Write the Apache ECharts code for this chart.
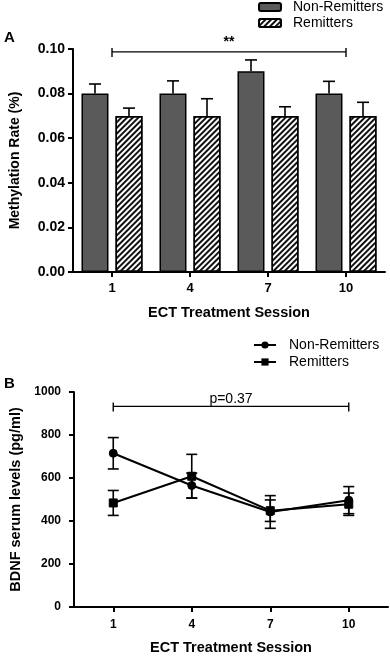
<!DOCTYPE html>
<html>
<head>
<meta charset="utf-8">
<script src="https://cdn.jsdelivr.net/npm/echarts@6/dist/echarts.min.js"></script>
<style>
html,body{margin:0;padding:0;background:#fff;}
#chart{width:390px;height:656px;}
</style>
</head>
<body>
<div id="chart"></div>
<script>
// ---------- data ----------
var sessions = ['1', '4', '7', '10'];
var seriesNames = ['Non-Remitters', 'Remitters'];

// Panel A: methylation rate (%)
var methNonRemit = [0.080, 0.080, 0.090, 0.080];
var methNonRemitErr = [0.0043, 0.0057, 0.0051, 0.0055];
var methRemit = [0.070, 0.070, 0.070, 0.070];
var methRemitErr = [0.0035, 0.0077, 0.0041, 0.0061];
var methTicks = [0, 0.02, 0.04, 0.06, 0.08, 0.10];
var sigA = [[0, 3, 0.0987, '**']];

// Panel B: BDNF serum levels (pg/ml)
var bdnfNonRemit = [715, 565, 442, 497];
var bdnfNonRemitErr = [73, 58, 76, 63];
var bdnfRemit = [484, 608, 448, 478];
var bdnfRemitErr = [58, 102, 50, 52];
var bdnfTicks = [0, 200, 400, 600, 800, 1000];
var sigB = [[0, 3, 933, 'p=0.37']];

// ---------- chart ----------
var FONT = 'Liberation Sans, Arial, Helvetica, sans-serif';
var chart = echarts.init(document.getElementById('chart'), null, {renderer: 'canvas'});

function errBarSeries(means, errs, xi, yi, offset, twoSided, capHalf) {
  return {
    type: 'custom', xAxisIndex: xi, yAxisIndex: yi, z: 1, silent: true,
    encode: {x: 0, y: [1, 2, 3]},
    data: means.map(function (m, i) { return [i, m, m + errs[i], twoSided ? m - errs[i] : m]; }),
    renderItem: function (params, api) {
      var i = api.value(0);
      var top = api.coord([i, api.value(2)]);
      var bot = api.coord([i, api.value(3)]);
      var x = top[0] + offset;
      var st = {stroke: '#000', lineWidth: 1.6};
      var ch = [
        {type: 'line', shape: {x1: x, y1: bot[1], x2: x, y2: top[1]}, style: st},
        {type: 'line', shape: {x1: x - capHalf, y1: top[1], x2: x + capHalf, y2: top[1]}, style: st}
      ];
      if (twoSided) ch.push({type: 'line', shape: {x1: x - capHalf, y1: bot[1], x2: x + capHalf, y2: bot[1]}, style: st});
      return {type: 'group', children: ch};
    }
  };
}

function bracketSeries(data, xi, yi, fontSize, bold, textGap) {
  return {
    type: 'custom', xAxisIndex: xi, yAxisIndex: yi, silent: true, z: 5,
    encode: {x: [0, 1], y: 2},
    data: data,
    renderItem: function (params, api) {
      var p1 = api.coord([api.value(0), api.value(2)]);
      var p2 = api.coord([api.value(1), api.value(2)]);
      var st = {stroke: '#000', lineWidth: 1.4};
      return {type: 'group', children: [
        {type: 'line', shape: {x1: p1[0], y1: p1[1], x2: p2[0], y2: p2[1]}, style: st},
        {type: 'line', shape: {x1: p1[0], y1: p1[1] - 4, x2: p1[0], y2: p1[1] + 5}, style: st},
        {type: 'line', shape: {x1: p2[0], y1: p2[1] - 4, x2: p2[0], y2: p2[1] + 5}, style: st},
        {type: 'text', x: (p1[0] + p2[0]) / 2, y: p1[1] - textGap,
          style: {text: data[params.dataIndex][3], textAlign: 'center', textVerticalAlign: 'bottom',
            font: (bold ? 'bold ' : '') + fontSize + 'px ' + FONT, fill: '#000'}}
      ]};
    }
  };
}

var axisLine = {show: true, lineStyle: {color: '#000', width: 2}};
var axisTick = {show: true, length: 5, lineStyle: {color: '#000', width: 2}};

var option = {
  animation: false,
  backgroundColor: '#fff',
  textStyle: {fontFamily: FONT},
  title: [
    {text: 'A', left: 4, top: 30, padding: 0, textStyle: {fontSize: 15, fontWeight: 'bold', color: '#000', fontFamily: FONT}},
    {text: 'B', left: 4, top: 376, padding: 0, textStyle: {fontSize: 15, fontWeight: 'bold', color: '#000', fontFamily: FONT}}
  ],
  legend: [
    {data: [seriesNames[0], seriesNames[1]], orient: 'vertical', left: 258, top: -1, itemGap: 0, padding: 0,
      itemWidth: 22, itemHeight: 8,
      textStyle: {fontSize: 14, color: '#000', fontFamily: FONT, lineHeight: 16, padding: [0, 0, 0, 7]}},
    {data: ['B:' + seriesNames[0], 'B:' + seriesNames[1]], orient: 'vertical', left: 253, top: 337, itemGap: 1, padding: 0,
      itemWidth: 22, itemHeight: 9,
      formatter: function (n) { return n.replace('B:', ''); },
      textStyle: {fontSize: 14, color: '#000', fontFamily: FONT, lineHeight: 16, padding: [0, 0, 0, 8]}}
  ],
  grid: [
    {left: 61, top: 49, width: 324, height: 223},
    {left: 66, top: 392, width: 322, height: 219}
  ],
  xAxis: [
    {type: 'category', gridIndex: 0, data: sessions, axisLine: axisLine,
      axisTick: Object.assign({alignWithLabel: true}, axisTick),
      axisLabel: {color: '#000', fontWeight: 'bold', fontSize: 13, margin: 10, fontFamily: FONT},
      name: 'ECT Treatment Session', nameLocation: 'middle', nameGap: 33,
      nameTextStyle: {fontWeight: 'bold', fontSize: 14.5, color: '#000', fontFamily: FONT}},
    {type: 'category', gridIndex: 1, data: sessions, axisLine: axisLine,
      axisTick: Object.assign({alignWithLabel: true}, axisTick),
      axisLabel: {color: '#000', fontWeight: 'bold', fontSize: 12, margin: 12, fontFamily: FONT},
      name: 'ECT Treatment Session', nameLocation: 'middle', nameGap: 33,
      nameTextStyle: {fontWeight: 'bold', fontSize: 14.5, color: '#000', fontFamily: FONT}}
  ],
  yAxis: [
    {type: 'value', gridIndex: 0, min: methTicks[0], max: methTicks[methTicks.length - 1], interval: 0.02,
      axisLine: axisLine, axisTick: axisTick, splitLine: {show: false},
      axisLabel: {color: '#000', fontWeight: 'bold', fontSize: 14, margin: 8, fontFamily: FONT,
        formatter: function (v) { return v.toFixed(2); }},
      name: 'Methylation Rate (%)', nameLocation: 'middle', nameGap: 51, nameRotate: 90,
      nameTextStyle: {fontWeight: 'bold', fontSize: 14, color: '#000', fontFamily: FONT}},
    {type: 'value', gridIndex: 1, min: bdnfTicks[0], max: bdnfTicks[bdnfTicks.length - 1], interval: 200,
      axisLine: axisLine, axisTick: axisTick, splitLine: {show: false},
      axisLabel: {color: '#000', fontWeight: 'bold', fontSize: 12, margin: 13, fontFamily: FONT,
        formatter: function (v) { return String(v); }},
      name: 'BDNF serum levels (pg/ml)', nameLocation: 'middle', nameGap: 51, nameRotate: 90,
      nameTextStyle: {fontWeight: 'bold', fontSize: 14.5, color: '#000', fontFamily: FONT}}
  ],
  series: [
    {name: seriesNames[0], type: 'bar', xAxisIndex: 0, yAxisIndex: 0, data: methNonRemit,
      barWidth: 27, barGap: '26%', z: 2,
      itemStyle: {color: '#5a5a5a', borderColor: '#000', borderWidth: 1.5}},
    {name: seriesNames[1], type: 'bar', xAxisIndex: 0, yAxisIndex: 0, data: methRemit,
      barWidth: 27, barGap: '26%', z: 2,
      itemStyle: {color: '#ffffff', borderColor: '#000', borderWidth: 1.5,
        decal: {symbol: 'rect', symbolSize: 1, color: '#111', dashArrayX: [[8, 0]], dashArrayY: [1.4, 1.6], rotation: -Math.PI / 4}}},
    errBarSeries(methNonRemit, methNonRemitErr, 0, 0, -17, false, 6),
    errBarSeries(methRemit, methRemitErr, 0, 0, 17, false, 6),
    bracketSeries(sigA, 0, 0, 14, true, 3),

    errBarSeries(bdnfNonRemit, bdnfNonRemitErr, 1, 1, 0, true, 5.5),
    errBarSeries(bdnfRemit, bdnfRemitErr, 1, 1, 0, true, 5.5),
    {name: 'B:' + seriesNames[0], type: 'line', xAxisIndex: 1, yAxisIndex: 1, data: bdnfNonRemit,
      symbol: 'circle', symbolSize: 8, z: 3,
      lineStyle: {color: '#000', width: 2}, itemStyle: {color: '#000', borderColor: '#000'}},
    {name: 'B:' + seriesNames[1], type: 'line', xAxisIndex: 1, yAxisIndex: 1, data: bdnfRemit,
      symbol: 'rect', symbolSize: 8, z: 3,
      lineStyle: {color: '#000', width: 2}, itemStyle: {color: '#000', borderColor: '#000'}},
    bracketSeries(sigB, 1, 1, 14, false, 0)
  ]
};
chart.setOption(option);
</script>
</body>
</html>
